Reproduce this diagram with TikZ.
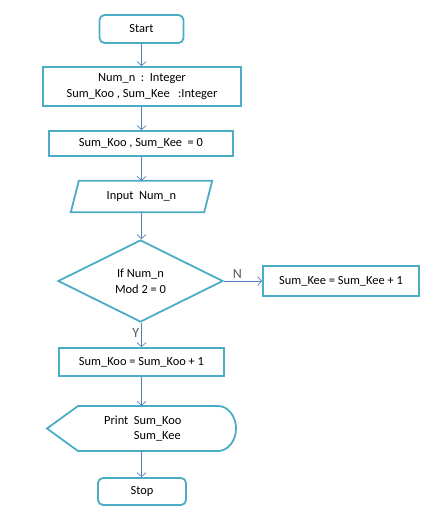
\documentclass[tikz,border=0pt]{standalone}
\usepackage{fontspec}
\setmainfont{Carlito}
\usetikzlibrary{arrows.meta,shapes.geometric,calc}
\definecolor{boxc}{HTML}{4BACC6}
\definecolor{linec}{HTML}{4F81BD}
\begin{document}
\begin{tikzpicture}[x=1pt,y=-1pt,
  every node/.style={font=\fontsize{12.4}{15.7}\selectfont, text=black, inner sep=0pt},
  procbox/.style={draw=boxc, line width=1.8pt, rectangle, align=center},
  termbox/.style={procbox, rounded corners=5pt},
  flow/.style={draw=linec, line width=0.7pt, -{Straight Barb[length=4pt,width=9pt,line width=0.7pt]}},
  lbl/.style={font=\fontsize{14}{16}\selectfont, text=black!65}]
\useasboundingbox (0,0) rectangle (442,524);
\node[termbox, minimum width=84, minimum height=28] (start) at (141.5,29) {Start};
\node[procbox, minimum width=198, minimum height=39] (decl) at (142,86.5) {Num\_n\ \ :\ \ Integer\\Sum\_Koo , Sum\_Kee\ \ \ :Integer};
\node[procbox, minimum width=184, minimum height=25] (init) at (141,143.5) {Sum\_Koo , Sum\_Kee\ \ = 0};
\node[minimum width=133, minimum height=31] (inp) at (141.5,196.5) {Input\ \ Num\_n};
\draw[draw=boxc, line width=1.8pt] ([xshift=4]inp.north west) -- ([xshift=4]inp.north east) -- ([xshift=-4]inp.south east) -- ([xshift=-4]inp.south west) -- cycle;
\node[diamond, draw=boxc, line width=1.8pt, minimum width=165, minimum height=82, aspect=2, align=center] (dec) at (140.5,281) {If Num\_n\\Mod 2 = 0};
\node[procbox, minimum width=156, minimum height=30] (kee) at (341,281) {Sum\_Kee = Sum\_Kee + 1};
\node[procbox, minimum width=165, minimum height=28] (koo) at (141.5,362) {Sum\_Koo = Sum\_Koo + 1};
\node[minimum width=189, minimum height=45] (prt) at (141.5,428.5) {};
\draw[draw=boxc, line width=1.8pt] (78,406) -- (218,406) arc[start angle=-90, end angle=90, x radius=18, y radius=22.5] -- (78,451) -- (47,428.5) -- cycle;
\node[align=left, anchor=west] (prttxt) at (104,428.5) {Print\ \ Sum\_Koo\\\phantom{Print\ \ }Sum\_Kee};
\node[termbox, minimum width=88, minimum height=27] (stop) at (142,491.5) {Stop};
\draw[flow] (start.south) -- (start.south |- decl.north);
\draw[flow] (decl.south -| start.south) -- (start.south |- init.north);
\draw[flow] (init.south -| start.south) -- (start.south |- inp.north);
\draw[flow] (inp.south -| start.south) -- (dec.north -| start.south);
\draw[flow] (dec.south -| start.south) -- node[lbl, anchor=east, pos=0.4, xshift=-2pt] (ylbl) {Y} (start.south |- koo.north);
\draw[flow] (dec.east) -- node[lbl, anchor=south, pos=0.35, yshift=2pt] (nlbl) {N} (kee.west);
\draw[flow] (koo.south -| start.south) -- (start.south |- prt.north);
\draw[flow] (prt.south -| start.south) -- (start.south |- stop.north);
\end{tikzpicture}
\end{document}
